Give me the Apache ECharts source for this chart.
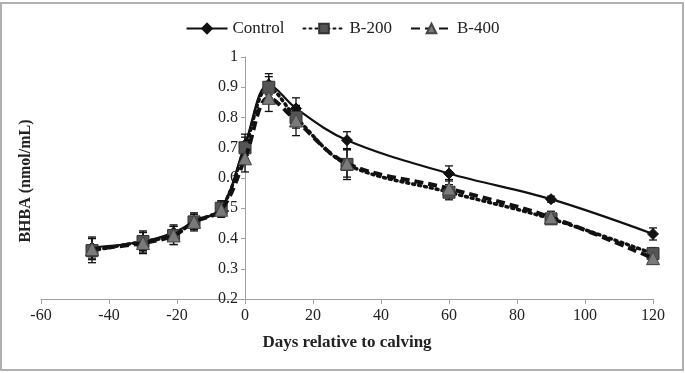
<!DOCTYPE html>
<html>
<head>
<meta charset="utf-8">
<script src="https://cdn.jsdelivr.net/npm/echarts@6/dist/echarts.min.js"></script>
<style>
html,body{margin:0;padding:0;background:#fff;}
#chart{width:685px;height:373px;}
</style>
</head>
<body>
<div id="chart"></div>
<script>
var days = [-45, -30, -21, -15, -7, 0, 7, 15, 30, 60, 90, 120];
var control = [0.37, 0.39, 0.42, 0.455, 0.50, 0.71, 0.91, 0.83, 0.725, 0.615, 0.53, 0.415];
var b200 = [0.36, 0.39, 0.41, 0.455, 0.50, 0.70, 0.90, 0.80, 0.645, 0.553, 0.465, 0.35];
var b400 = [0.365, 0.385, 0.41, 0.455, 0.495, 0.665, 0.865, 0.79, 0.648, 0.565, 0.47, 0.335];
var controlErr = [0.035, 0.03, 0.025, 0.025, 0.02, 0.035, 0.035, 0.035, 0.028, 0.025, 0.01, 0.02];
var b200Err = [0.04, 0.035, 0.03, 0.025, 0.025, 0.035, 0.035, 0.035, 0.05, 0.025, 0.015, 0.02];
var b400Err = [0.035, 0.035, 0.03, 0.03, 0.025, 0.045, 0.045, 0.05, 0.045, 0.03, 0.02, 0.02];
var seriesNames = ['Control', 'B-200', 'B-400'];
var xTicks = {min: -60, max: 120, interval: 20};
var yTicks = {min: 0.2, max: 1, interval: 0.1};
var xTitle = 'Days relative to calving';
var yTitle = 'BHBA (nmol/mL)';

var FONT = '"Liberation Serif", "DejaVu Serif", serif';

var GRID = {left: 41, right: 32, top: 57, bottom: 74};
var CW = 685, CH = 373;
// pixel offset that places the y axis where x = 0 (Excel-style crossing)
var plotW = CW - GRID.left - GRID.right;
var yAxisShift = (0 - xTicks.min) / (xTicks.max - xTicks.min) * plotW;

function pairs(vals) {
  return days.map(function (d, i) { return [d, vals[i]]; });
}
function errData(vals, errs) {
  return days.map(function (d, i) { return [d, vals[i] - errs[i], vals[i] + errs[i]]; });
}
function errSeries(vals, errs) {
  return {
    type: 'custom',
    z: 4,
    silent: true,
    data: errData(vals, errs),
    encode: {x: 0, y: [1, 2]},
    renderItem: function (params, api) {
      var lo = api.coord([api.value(0), api.value(1)]);
      var hi = api.coord([api.value(0), api.value(2)]);
      var w = 4;
      var st = {stroke: '#111', lineWidth: 1.3};
      return {
        type: 'group',
        children: [
          {type: 'line', shape: {x1: lo[0], y1: lo[1], x2: hi[0], y2: hi[1]}, style: st},
          {type: 'line', shape: {x1: lo[0] - w, y1: lo[1], x2: lo[0] + w, y2: lo[1]}, style: st},
          {type: 'line', shape: {x1: hi[0] - w, y1: hi[1], x2: hi[0] + w, y2: hi[1]}, style: st}
        ]
      };
    }
  };
}

var chart = echarts.init(document.getElementById('chart'));
chart.setOption({
  animation: false,
  backgroundColor: '#fff',
  textStyle: {fontFamily: FONT},
  graphic: [{
    type: 'rect',
    shape: {x: 1, y: 3, width: 682, height: 367},
    style: {fill: 'none', stroke: '#b0b0b0', lineWidth: 2},
    silent: true
  }, {
    type: 'text',
    x: 26,
    y: 181,
    rotation: Math.PI / 2,
    silent: true,
    style: {
      text: yTitle,
      fontFamily: FONT, fontSize: 16, fontWeight: 'bold', fill: '#222',
      align: 'center', verticalAlign: 'middle'
    }
  }],
  legend: {
    top: 15,
    left: 'center',
    itemWidth: 41,
    itemHeight: 12,
    itemGap: 18,
    data: seriesNames,
    textStyle: {fontFamily: FONT, fontSize: 17, color: '#222'}
  },
  grid: {left: GRID.left, right: GRID.right, top: GRID.top, bottom: GRID.bottom, containLabel: false, outerBoundsMode: 'none'},
  xAxis: {
    type: 'value',
    min: xTicks.min, max: xTicks.max, interval: xTicks.interval,
    name: xTitle,
    nameLocation: 'middle',
    nameGap: 35,
    nameTextStyle: {fontFamily: FONT, fontSize: 17, fontWeight: 'bold', color: '#222'},
    axisLine: {lineStyle: {color: '#a0a0a0', width: 1}},
    axisTick: {show: true, length: 5, lineStyle: {color: '#a0a0a0'}},
    axisLabel: {fontFamily: FONT, fontSize: 16, color: '#222', margin: 9},
    splitLine: {show: false}
  },
  yAxis: {
    type: 'value',
    position: 'left',
    offset: -yAxisShift,
    min: yTicks.min, max: yTicks.max, interval: yTicks.interval,
    axisLine: {show: true, onZero: false, lineStyle: {color: '#a0a0a0', width: 1}},
    axisTick: {show: true, length: 4, lineStyle: {color: '#a0a0a0'}},
    axisLabel: {fontFamily: FONT, fontSize: 16, color: '#222', margin: 7,
      formatter: function (v) { return String(Math.round(v * 10) / 10); }},
    splitLine: {show: false}
  },
  series: [
    errSeries(control, controlErr),
    errSeries(b200, b200Err),
    errSeries(b400, b400Err),
    {
      name: 'Control', type: 'line', z: 5,
      data: pairs(control),
      smooth: 0.35,
      symbol: 'diamond', symbolSize: 11,
      itemStyle: {color: '#111', borderColor: '#111', borderWidth: 1},
      lineStyle: {color: '#111', width: 2.2, type: 'solid'}
    },
    {
      name: 'B-200', type: 'line', z: 5,
      data: pairs(b200),
      smooth: 0.35,
      symbol: 'rect', symbolSize: 12,
      itemStyle: {color: '#555', borderColor: '#333', borderWidth: 1},
      lineStyle: {color: '#111', width: 3.5, type: [2, 4], cap: 'round'}
    },
    {
      name: 'B-400', type: 'line', z: 6,
      data: pairs(b400),
      smooth: 0.35,
      symbol: 'triangle', symbolSize: 13,
      itemStyle: {color: '#7a7a7a', borderColor: '#444', borderWidth: 1},
      lineStyle: {color: '#111', width: 4, type: [9, 5]}
    }
  ]
});
</script>
</body>
</html>
